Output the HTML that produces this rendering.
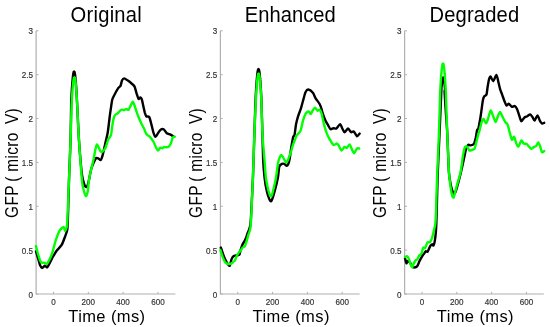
<!DOCTYPE html>
<html><head><meta charset="utf-8"><title>GFP</title>
<style>
html,body{margin:0;padding:0;background:#fff;}
svg{display:block;}
.tk{font-family:"Liberation Sans",sans-serif;font-size:8.1px;fill:#303030;stroke:#303030;stroke-width:0.15px;}
.lb{font-family:"Liberation Sans",sans-serif;font-size:16.5px;fill:#000;letter-spacing:0.4px;}
.tt{font-family:"Liberation Sans",sans-serif;font-size:21px;fill:#000;letter-spacing:-0.15px;}
</style></head><body>
<svg width="550" height="327" viewBox="0 0 550 327">
<rect width="550" height="327" fill="#fff"/>
<g>
<path d="M36.1 30.8V294.0H175.3" fill="none" stroke="#b0b0b0" stroke-width="1.2"/>
<path d="M36.1 294.0h2.4" stroke="#b0b0b0" stroke-width="1"/>
<text class="tk" transform="translate(32.9,297.5) scale(1,1.2)" text-anchor="end">0</text>
<path d="M36.1 250.1h2.4" stroke="#b0b0b0" stroke-width="1"/>
<text class="tk" transform="translate(32.9,253.6) scale(1,1.2)" text-anchor="end">0.5</text>
<path d="M36.1 206.3h2.4" stroke="#b0b0b0" stroke-width="1"/>
<text class="tk" transform="translate(32.9,209.8) scale(1,1.2)" text-anchor="end">1</text>
<path d="M36.1 162.4h2.4" stroke="#b0b0b0" stroke-width="1"/>
<text class="tk" transform="translate(32.9,165.9) scale(1,1.2)" text-anchor="end">1.5</text>
<path d="M36.1 118.5h2.4" stroke="#b0b0b0" stroke-width="1"/>
<text class="tk" transform="translate(32.9,122.0) scale(1,1.2)" text-anchor="end">2</text>
<path d="M36.1 74.7h2.4" stroke="#b0b0b0" stroke-width="1"/>
<text class="tk" transform="translate(32.9,78.2) scale(1,1.2)" text-anchor="end">2.5</text>
<path d="M36.1 30.8h2.4" stroke="#b0b0b0" stroke-width="1"/>
<text class="tk" transform="translate(32.9,34.3) scale(1,1.2)" text-anchor="end">3</text>
<path d="M53.5 294.0v-2.2" stroke="#b0b0b0" stroke-width="1"/>
<text class="tk" transform="translate(53.5,304.8) scale(1,1.2)" text-anchor="middle">0</text>
<path d="M88.3 294.0v-2.2" stroke="#b0b0b0" stroke-width="1"/>
<text class="tk" transform="translate(88.3,304.8) scale(1,1.2)" text-anchor="middle">200</text>
<path d="M123.1 294.0v-2.2" stroke="#b0b0b0" stroke-width="1"/>
<text class="tk" transform="translate(123.1,304.8) scale(1,1.2)" text-anchor="middle">400</text>
<path d="M157.9 294.0v-2.2" stroke="#b0b0b0" stroke-width="1"/>
<text class="tk" transform="translate(157.9,304.8) scale(1,1.2)" text-anchor="middle">600</text>
<path d="M36.0 251.5C36.2 252.3 37.5 256.4 38.0 258.0C38.5 259.6 39.5 263.8 40.0 265.0C40.5 266.2 41.6 267.9 42.2 268.0C42.8 268.1 44.2 265.7 44.8 265.6C45.4 265.5 46.8 267.6 47.3 267.4C47.8 267.2 48.8 264.8 49.5 263.5C50.2 262.2 52.2 258.0 53.1 256.5C54.0 255.0 56.0 251.6 57.0 250.3C58.0 249.0 60.6 246.7 61.5 245.2C62.4 243.7 64.1 239.2 64.7 237.5C65.3 235.8 66.6 232.8 67.0 231.0C67.4 229.2 67.6 227.9 67.8 222.0C68.0 216.1 68.7 189.3 69.0 180.0C69.3 170.7 70.2 151.2 70.5 142.0C70.8 132.8 71.1 106.7 71.2 101.5C71.3 96.3 71.4 98.3 71.4 97.4C71.5 96.4 71.6 94.4 71.6 93.5C71.7 92.7 71.8 90.8 71.8 90.0C71.9 89.2 72.0 87.5 72.0 86.8C72.1 86.1 72.2 84.5 72.2 83.9C72.3 83.3 72.4 81.9 72.5 81.3C72.5 80.7 72.6 79.5 72.7 79.0C72.7 78.5 72.8 77.4 72.9 77.0C72.9 76.6 73.0 75.7 73.1 75.3C73.1 75.0 73.2 74.2 73.3 73.9C73.3 73.7 73.4 73.1 73.5 72.9C73.5 72.7 73.6 72.3 73.7 72.1C73.7 72.0 73.8 71.7 73.9 71.7C73.9 71.6 74.1 71.5 74.1 71.5C74.1 71.5 74.3 71.6 74.3 71.7C74.4 71.7 74.5 72.0 74.5 72.1C74.6 72.3 74.7 72.7 74.7 72.9C74.8 73.1 74.9 73.7 74.9 73.9C75.0 74.2 75.1 75.0 75.1 75.3C75.2 75.7 75.3 76.6 75.3 77.0C75.4 77.4 75.5 78.5 75.5 79.0C75.6 79.5 75.7 80.7 75.7 81.3C75.8 81.9 75.9 83.3 76.0 83.9C76.0 84.5 76.1 86.1 76.2 86.8C76.2 87.5 76.3 89.2 76.4 90.0C76.4 90.8 76.5 92.7 76.6 93.5C76.6 94.4 76.7 96.4 76.8 97.4C76.8 98.3 76.7 96.3 77.0 101.5C77.3 106.7 78.5 133.4 79.1 142.0C79.7 150.6 81.4 170.0 82.0 175.0C82.6 180.0 84.0 183.6 84.5 185.0C85.0 186.4 86.1 187.3 86.6 187.0C87.1 186.7 88.0 184.0 88.5 182.0C89.0 180.0 90.5 171.7 91.1 169.5C91.7 167.3 92.9 164.3 93.5 163.0C94.1 161.7 95.6 158.5 96.2 158.0C96.8 157.5 98.0 158.3 98.5 158.5C99.0 158.7 100.2 160.4 100.7 160.0C101.2 159.6 102.1 157.3 102.6 155.4C103.1 153.5 104.6 146.6 105.2 143.9C105.8 141.2 107.3 135.2 107.8 132.0C108.3 128.8 109.3 120.0 109.7 116.7C110.1 113.4 111.2 106.1 111.5 104.0C111.8 101.9 112.0 100.2 112.5 98.9C113.0 97.6 114.7 94.3 115.4 93.0C116.1 91.7 117.8 88.8 118.4 87.9C119.0 87.0 120.2 86.6 120.6 85.7C121.0 84.8 121.6 81.5 122.0 80.6C122.4 79.7 123.5 78.4 124.2 78.4C124.9 78.4 127.0 80.0 127.9 80.6C128.8 81.2 130.8 82.8 131.6 83.5C132.4 84.2 133.9 85.2 134.5 86.4C135.1 87.6 136.2 92.3 136.7 93.8C137.2 95.3 138.1 98.5 138.5 98.9C138.9 99.3 140.0 97.3 140.4 97.4C140.8 97.5 141.6 98.6 141.9 99.6C142.2 100.6 143.0 104.5 143.3 106.0C143.6 107.5 144.5 111.4 144.8 112.6C145.2 113.8 145.8 115.8 146.3 116.3C146.8 116.8 148.6 116.1 149.2 117.0C149.8 117.9 150.9 122.5 151.4 124.4C151.9 126.3 153.1 131.7 153.6 133.2C154.1 134.7 155.0 136.9 155.5 136.9C156.0 136.9 157.4 134.1 158.0 133.2C158.6 132.3 160.2 129.9 160.9 129.5C161.6 129.1 163.2 129.1 163.9 129.5C164.6 129.9 166.0 132.6 166.8 133.2C167.6 133.8 169.7 134.2 170.5 134.6C171.3 135.0 173.1 136.3 173.4 136.5" fill="none" stroke="#000" stroke-width="2.4" stroke-linejoin="round" stroke-linecap="round"/>
<path d="M36.0 246.2C36.2 247.1 37.5 252.3 38.0 254.0C38.5 255.7 39.8 260.0 40.3 261.0C40.8 262.0 41.6 262.6 42.0 262.8C42.4 263.0 43.5 262.5 44.0 262.6C44.5 262.7 46.1 264.0 46.7 263.8C47.3 263.6 48.5 261.4 49.0 260.5C49.5 259.6 50.7 257.0 51.2 255.8C51.7 254.6 52.6 251.8 53.1 250.0C53.6 248.2 55.0 242.6 55.7 240.4C56.4 238.2 58.6 232.4 59.5 230.8C60.4 229.2 63.0 226.9 63.6 226.9C64.2 226.9 64.6 230.7 64.9 230.8C65.2 230.9 66.2 229.0 66.5 228.0C66.8 227.0 67.0 227.6 67.3 222.0C67.6 216.4 68.6 189.3 69.0 180.0C69.4 170.7 70.2 150.5 70.5 142.0C70.8 133.5 71.4 111.7 71.5 107.2C71.7 102.7 71.7 104.0 71.7 103.1C71.8 102.1 71.9 100.1 71.9 99.2C72.0 98.4 72.1 96.5 72.1 95.7C72.2 94.9 72.3 93.2 72.3 92.5C72.4 91.8 72.5 90.2 72.5 89.6C72.6 89.0 72.7 87.6 72.8 87.0C72.8 86.4 72.9 85.2 73.0 84.7C73.0 84.2 73.1 83.1 73.2 82.7C73.2 82.3 73.3 81.4 73.4 81.0C73.4 80.7 73.5 79.9 73.6 79.6C73.6 79.4 73.7 78.8 73.8 78.6C73.8 78.4 73.9 78.0 74.0 77.8C74.0 77.7 74.1 77.4 74.2 77.4C74.2 77.3 74.4 77.2 74.4 77.2C74.4 77.2 74.6 77.3 74.6 77.4C74.7 77.4 74.8 77.7 74.8 77.8C74.9 78.0 75.0 78.4 75.0 78.6C75.1 78.8 75.2 79.4 75.2 79.6C75.3 79.9 75.4 80.7 75.4 81.0C75.5 81.4 75.6 82.3 75.6 82.7C75.7 83.1 75.8 84.2 75.8 84.7C75.9 85.2 76.0 86.4 76.0 87.0C76.1 87.6 76.2 89.0 76.3 89.6C76.3 90.2 76.4 91.8 76.5 92.5C76.5 93.2 76.6 94.9 76.7 95.7C76.7 96.5 76.8 98.4 76.9 99.2C76.9 100.1 77.0 102.1 77.1 103.1C77.1 104.0 77.1 102.7 77.3 107.2C77.5 111.7 78.5 133.3 79.1 142.0C79.7 150.7 81.5 176.1 82.1 182.0C82.7 187.9 84.0 191.4 84.5 193.0C85.0 194.6 85.8 196.3 86.2 196.0C86.6 195.7 87.7 191.6 88.0 190.0C88.3 188.4 88.4 184.3 88.7 182.0C89.0 179.7 90.4 172.6 91.0 170.0C91.6 167.4 93.1 161.8 93.6 159.3C94.1 156.9 95.1 150.7 95.5 149.0C95.9 147.3 96.6 144.7 96.9 144.5C97.2 144.3 98.1 146.3 98.5 147.0C98.9 147.7 99.6 149.9 100.0 150.5C100.4 151.1 101.5 152.1 102.0 152.0C102.5 151.9 103.5 150.6 104.0 150.0C104.5 149.4 105.4 148.2 105.9 147.0C106.4 145.8 107.5 141.1 108.1 139.7C108.7 138.3 110.5 136.8 111.0 135.0C111.5 133.2 112.1 126.7 112.5 124.4C112.9 122.1 114.1 116.9 114.7 115.6C115.3 114.3 116.8 114.1 117.6 113.4C118.4 112.7 120.5 110.1 121.3 109.7C122.1 109.3 123.6 110.2 124.2 110.1C124.8 110.0 125.9 109.0 126.4 109.0C126.9 109.0 128.1 110.1 128.6 109.7C129.1 109.3 130.3 106.2 130.8 105.3C131.3 104.4 132.5 101.5 133.0 101.8C133.5 102.1 134.6 105.8 135.2 107.5C135.8 109.2 137.5 114.5 138.2 116.3C138.9 118.1 140.4 121.4 141.1 122.9C141.8 124.4 143.5 127.5 144.1 128.8C144.7 130.1 145.6 133.0 146.3 133.9C147.0 134.8 149.0 136.0 149.9 136.9C150.8 137.8 152.9 140.8 153.6 142.0C154.3 143.2 155.3 146.0 155.8 147.0C156.3 148.0 157.5 150.4 158.0 150.5C158.5 150.6 159.7 148.1 160.2 147.8C160.7 147.5 161.9 148.3 162.4 148.2C162.9 148.1 164.1 147.1 164.6 147.0C165.1 146.9 166.3 147.4 166.8 147.3C167.3 147.2 168.5 146.8 169.0 146.3C169.5 145.8 170.8 143.6 171.2 142.6C171.6 141.6 172.3 138.2 172.7 137.5C173.1 136.8 174.6 136.8 174.9 136.7" fill="none" stroke="#00ff00" stroke-width="2.4" stroke-linejoin="round" stroke-linecap="round"/>
<text class="tt" transform="translate(106.3,22.4) scale(0.96,1.05)" text-anchor="middle" style="letter-spacing:0.26px">Original</text>
<text class="lb" x="106.9" y="322" text-anchor="middle">Time (ms)</text>
<text class="lb" transform="translate(17.7,162.9) rotate(-90) scale(0.93,1.06)" text-anchor="middle" style="word-spacing:4px">GFP <tspan dx="-5">(</tspan><tspan dx="5">micro V)</tspan></text>
</g>
<g>
<path d="M220.4 30.8V294.0H359.6" fill="none" stroke="#b0b0b0" stroke-width="1.2"/>
<path d="M220.4 294.0h2.4" stroke="#b0b0b0" stroke-width="1"/>
<text class="tk" transform="translate(217.2,297.5) scale(1,1.2)" text-anchor="end">0</text>
<path d="M220.4 250.1h2.4" stroke="#b0b0b0" stroke-width="1"/>
<text class="tk" transform="translate(217.2,253.6) scale(1,1.2)" text-anchor="end">0.5</text>
<path d="M220.4 206.3h2.4" stroke="#b0b0b0" stroke-width="1"/>
<text class="tk" transform="translate(217.2,209.8) scale(1,1.2)" text-anchor="end">1</text>
<path d="M220.4 162.4h2.4" stroke="#b0b0b0" stroke-width="1"/>
<text class="tk" transform="translate(217.2,165.9) scale(1,1.2)" text-anchor="end">1.5</text>
<path d="M220.4 118.5h2.4" stroke="#b0b0b0" stroke-width="1"/>
<text class="tk" transform="translate(217.2,122.0) scale(1,1.2)" text-anchor="end">2</text>
<path d="M220.4 74.7h2.4" stroke="#b0b0b0" stroke-width="1"/>
<text class="tk" transform="translate(217.2,78.2) scale(1,1.2)" text-anchor="end">2.5</text>
<path d="M220.4 30.8h2.4" stroke="#b0b0b0" stroke-width="1"/>
<text class="tk" transform="translate(217.2,34.3) scale(1,1.2)" text-anchor="end">3</text>
<path d="M237.8 294.0v-2.2" stroke="#b0b0b0" stroke-width="1"/>
<text class="tk" transform="translate(237.8,304.8) scale(1,1.2)" text-anchor="middle">0</text>
<path d="M272.6 294.0v-2.2" stroke="#b0b0b0" stroke-width="1"/>
<text class="tk" transform="translate(272.6,304.8) scale(1,1.2)" text-anchor="middle">200</text>
<path d="M307.4 294.0v-2.2" stroke="#b0b0b0" stroke-width="1"/>
<text class="tk" transform="translate(307.4,304.8) scale(1,1.2)" text-anchor="middle">400</text>
<path d="M342.2 294.0v-2.2" stroke="#b0b0b0" stroke-width="1"/>
<text class="tk" transform="translate(342.2,304.8) scale(1,1.2)" text-anchor="middle">600</text>
<path d="M220.8 247.5C221.1 248.3 222.5 252.5 223.0 254.0C223.5 255.5 224.9 258.8 225.5 260.0C226.1 261.2 227.3 263.3 227.8 264.0C228.3 264.7 229.4 266.2 229.8 265.7C230.2 265.2 231.1 260.4 231.5 259.3C231.9 258.2 232.9 256.7 233.3 256.3C233.7 255.9 234.5 255.7 234.9 255.6C235.3 255.5 236.5 255.6 237.0 255.5C237.5 255.4 239.1 255.1 239.5 254.5C239.9 253.9 240.2 251.2 240.6 250.0C241.0 248.8 242.1 245.4 242.6 244.3C243.1 243.2 244.1 241.7 244.5 241.0C244.9 240.3 245.6 238.9 246.0 238.0C246.4 237.1 247.2 233.9 247.6 233.0C247.9 232.1 248.7 230.9 249.0 230.0C249.3 229.1 250.1 226.5 250.3 225.0C250.5 223.5 250.7 222.7 251.0 217.0C251.3 211.3 252.6 185.4 253.0 176.0C253.4 166.6 254.0 145.0 254.3 136.0C254.6 127.0 255.4 103.8 255.6 99.0C255.8 94.2 255.8 95.8 255.8 94.9C255.9 93.9 256.0 91.9 256.0 91.0C256.1 90.2 256.2 88.3 256.2 87.5C256.3 86.7 256.4 85.0 256.4 84.3C256.5 83.6 256.6 82.0 256.6 81.4C256.7 80.8 256.8 79.4 256.9 78.8C256.9 78.2 257.0 77.0 257.1 76.5C257.1 76.0 257.2 74.9 257.3 74.5C257.3 74.1 257.4 73.2 257.5 72.8C257.5 72.5 257.6 71.7 257.7 71.4C257.7 71.2 257.8 70.6 257.9 70.4C257.9 70.2 258.0 69.8 258.1 69.6C258.1 69.5 258.2 69.2 258.3 69.2C258.3 69.1 258.5 69.0 258.5 69.0C258.5 69.0 258.7 69.1 258.7 69.2C258.8 69.2 258.9 69.5 258.9 69.6C259.0 69.8 259.1 70.2 259.1 70.4C259.2 70.6 259.3 71.2 259.3 71.4C259.4 71.7 259.5 72.5 259.5 72.8C259.6 73.2 259.7 74.1 259.7 74.5C259.8 74.9 259.9 76.0 259.9 76.5C260.0 77.0 260.1 78.2 260.1 78.8C260.2 79.4 260.3 80.8 260.4 81.4C260.4 82.0 260.5 83.6 260.6 84.3C260.6 85.0 260.7 86.7 260.8 87.5C260.8 88.3 260.9 90.2 261.0 91.0C261.0 91.9 261.1 93.9 261.2 94.9C261.2 95.8 261.2 94.2 261.4 99.0C261.5 103.8 262.3 128.8 262.5 136.0C262.7 143.2 263.0 155.9 263.2 160.7C263.4 165.5 264.1 173.3 264.5 177.0C264.9 180.7 266.4 189.4 267.0 192.0C267.6 194.6 269.0 198.4 269.5 199.5C270.0 200.6 270.6 201.4 270.9 201.3C271.2 201.2 271.8 200.3 272.3 199.0C272.8 197.7 274.3 192.6 275.0 190.0C275.7 187.4 277.5 179.7 278.0 177.0C278.5 174.3 278.8 168.0 279.3 166.5C279.8 165.0 281.3 164.2 281.9 163.9C282.5 163.6 283.9 163.7 284.4 163.9C284.9 164.1 285.9 165.8 286.4 165.8C286.9 165.8 287.9 164.8 288.3 163.9C288.7 163.0 289.5 159.7 289.8 158.0C290.1 156.3 290.6 151.5 291.0 149.1C291.4 146.7 292.7 139.0 293.1 137.3C293.5 135.6 294.3 136.3 294.6 134.8C294.9 133.3 295.6 126.6 296.0 124.5C296.4 122.4 297.3 118.7 297.9 116.8C298.5 114.9 300.5 109.8 301.1 107.8C301.7 105.8 302.9 101.2 303.4 99.4C303.9 97.6 305.0 93.2 305.6 92.0C306.2 90.8 307.3 89.4 308.2 89.5C309.1 89.6 312.0 91.7 312.9 92.8C313.8 93.9 315.0 97.3 315.8 98.6C316.6 99.9 318.8 102.5 319.5 103.8C320.2 105.1 321.4 108.6 321.7 109.6C322.0 110.6 322.0 111.0 322.4 112.3C322.8 113.6 324.7 118.8 325.4 120.4C326.1 122.0 327.7 124.6 328.3 125.6C328.9 126.6 329.9 128.9 330.5 129.2C331.1 129.5 332.8 128.3 333.5 128.2C334.2 128.1 335.6 129.0 336.4 128.5C337.2 128.0 339.4 124.1 340.1 124.1C340.8 124.1 341.8 127.6 342.3 128.5C342.8 129.4 343.8 132.2 344.5 132.2C345.2 132.2 347.3 128.5 348.1 128.5C348.9 128.5 350.4 131.9 351.1 132.2C351.8 132.5 353.0 130.9 353.7 131.4C354.4 131.9 356.3 136.0 357.0 136.3C357.7 136.6 359.3 133.9 359.6 133.6" fill="none" stroke="#000" stroke-width="2.4" stroke-linejoin="round" stroke-linecap="round"/>
<path d="M220.4 250.0C220.7 250.8 222.1 255.6 222.7 257.1C223.3 258.6 224.7 261.7 225.3 262.5C225.9 263.3 227.2 263.8 227.8 264.0C228.4 264.2 229.8 264.0 230.4 263.8C231.0 263.6 232.5 262.6 233.0 262.2C233.5 261.8 234.5 261.2 234.9 260.5C235.3 259.8 236.3 256.7 236.8 255.8C237.3 254.9 238.3 253.2 238.8 252.6C239.3 252.0 240.3 251.3 240.7 250.7C241.1 250.1 242.1 248.0 242.6 247.5C243.1 247.0 244.3 246.9 244.8 246.2C245.3 245.5 246.1 243.1 246.5 241.7C246.9 240.3 248.0 236.1 248.4 234.6C248.8 233.1 250.0 231.0 250.3 228.9C250.6 226.8 250.9 223.2 251.2 217.0C251.5 210.8 252.6 185.4 253.0 176.0C253.4 166.6 254.0 144.5 254.3 136.0C254.6 127.5 255.5 107.8 255.7 103.5C255.9 99.2 255.9 100.3 255.9 99.4C256.0 98.4 256.1 96.4 256.1 95.5C256.2 94.7 256.3 92.8 256.3 92.0C256.4 91.2 256.5 89.5 256.5 88.8C256.6 88.1 256.7 86.5 256.7 85.9C256.8 85.3 256.9 83.9 257.0 83.3C257.0 82.7 257.1 81.5 257.2 81.0C257.2 80.5 257.3 79.4 257.4 79.0C257.4 78.6 257.5 77.7 257.6 77.3C257.6 77.0 257.7 76.2 257.8 75.9C257.8 75.7 257.9 75.1 258.0 74.9C258.0 74.7 258.1 74.3 258.2 74.1C258.2 74.0 258.3 73.7 258.4 73.7C258.4 73.6 258.6 73.5 258.6 73.5C258.6 73.5 258.8 73.6 258.8 73.7C258.9 73.7 259.0 74.0 259.0 74.1C259.1 74.3 259.2 74.7 259.2 74.9C259.3 75.1 259.4 75.7 259.4 75.9C259.5 76.2 259.6 77.0 259.6 77.3C259.7 77.7 259.8 78.6 259.8 79.0C259.9 79.4 260.0 80.5 260.0 81.0C260.1 81.5 260.2 82.7 260.2 83.3C260.3 83.9 260.4 85.3 260.5 85.9C260.5 86.5 260.6 88.1 260.7 88.8C260.7 89.5 260.8 91.2 260.9 92.0C260.9 92.8 261.0 94.7 261.1 95.5C261.1 96.4 261.2 98.4 261.3 99.4C261.3 100.3 261.3 99.2 261.5 103.5C261.6 107.8 262.2 129.4 262.6 136.0C263.0 142.6 264.1 155.2 264.5 160.0C264.9 164.8 265.4 173.6 265.8 177.0C266.2 180.4 267.5 186.9 268.0 189.0C268.5 191.1 269.5 194.2 269.8 195.0C270.1 195.8 270.6 196.2 270.9 196.2C271.2 196.2 271.6 196.1 272.0 195.0C272.4 193.9 273.5 189.1 274.0 187.0C274.5 184.9 275.6 179.8 276.1 177.0C276.6 174.2 277.6 165.4 278.0 163.2C278.4 161.0 279.1 159.0 279.5 158.0C279.9 157.0 280.8 155.0 281.2 154.9C281.6 154.8 282.6 156.3 283.0 157.0C283.4 157.7 284.4 159.8 284.8 160.5C285.2 161.2 286.0 162.7 286.4 162.6C286.8 162.5 287.6 160.8 288.0 160.0C288.4 159.2 289.3 156.4 289.6 155.5C289.9 154.6 290.5 153.2 290.9 152.0C291.3 150.8 292.3 146.8 292.8 145.3C293.3 143.8 294.9 140.1 295.3 138.9C295.7 137.7 296.0 136.3 296.6 135.4C297.2 134.5 299.8 132.6 300.5 130.9C301.2 129.2 302.4 122.7 303.0 120.7C303.6 118.7 305.0 114.9 305.6 113.8C306.2 112.7 307.4 111.8 307.8 111.6C308.2 111.4 308.9 111.6 309.2 111.9C309.5 112.2 310.3 114.3 310.7 114.1C311.1 113.9 312.4 110.9 312.9 110.1C313.4 109.3 314.6 107.5 315.1 107.6C315.6 107.7 316.9 110.5 317.4 110.7C317.9 110.9 319.2 109.3 319.7 109.7C320.2 110.1 321.2 112.1 321.7 113.8C322.2 115.5 323.3 121.8 323.9 124.1C324.5 126.4 326.2 131.8 326.9 133.6C327.6 135.4 329.0 138.2 329.8 139.5C330.6 140.8 332.7 144.5 333.5 145.0C334.3 145.5 336.0 143.5 336.6 143.5C337.2 143.5 337.8 144.2 338.4 145.0C339.0 145.8 340.8 150.3 341.5 150.5C342.2 150.7 343.9 147.2 344.5 146.9C345.1 146.6 346.1 148.3 346.7 148.0C347.3 147.7 348.9 144.3 349.5 144.4C350.1 144.5 351.3 148.1 351.8 149.1C352.3 150.1 353.6 153.3 354.2 153.2C354.8 153.1 356.4 148.8 357.0 148.3C357.6 147.8 358.9 148.5 359.2 148.5" fill="none" stroke="#00ff00" stroke-width="2.4" stroke-linejoin="round" stroke-linecap="round"/>
<text class="tt" transform="translate(290.2,22.4) scale(0.96,1.05)" text-anchor="middle" style="letter-spacing:0.05px">Enhanced</text>
<text class="lb" x="291.2" y="322" text-anchor="middle">Time (ms)</text>
<text class="lb" transform="translate(202.0,162.9) rotate(-90) scale(0.93,1.06)" text-anchor="middle" style="word-spacing:4px">GFP <tspan dx="-5">(</tspan><tspan dx="5">micro V)</tspan></text>
</g>
<g>
<path d="M404.6 30.8V294.0H543.8" fill="none" stroke="#b0b0b0" stroke-width="1.2"/>
<path d="M404.6 294.0h2.4" stroke="#b0b0b0" stroke-width="1"/>
<text class="tk" transform="translate(401.4,297.5) scale(1,1.2)" text-anchor="end">0</text>
<path d="M404.6 250.1h2.4" stroke="#b0b0b0" stroke-width="1"/>
<text class="tk" transform="translate(401.4,253.6) scale(1,1.2)" text-anchor="end">0.5</text>
<path d="M404.6 206.3h2.4" stroke="#b0b0b0" stroke-width="1"/>
<text class="tk" transform="translate(401.4,209.8) scale(1,1.2)" text-anchor="end">1</text>
<path d="M404.6 162.4h2.4" stroke="#b0b0b0" stroke-width="1"/>
<text class="tk" transform="translate(401.4,165.9) scale(1,1.2)" text-anchor="end">1.5</text>
<path d="M404.6 118.5h2.4" stroke="#b0b0b0" stroke-width="1"/>
<text class="tk" transform="translate(401.4,122.0) scale(1,1.2)" text-anchor="end">2</text>
<path d="M404.6 74.7h2.4" stroke="#b0b0b0" stroke-width="1"/>
<text class="tk" transform="translate(401.4,78.2) scale(1,1.2)" text-anchor="end">2.5</text>
<path d="M404.6 30.8h2.4" stroke="#b0b0b0" stroke-width="1"/>
<text class="tk" transform="translate(401.4,34.3) scale(1,1.2)" text-anchor="end">3</text>
<path d="M422.0 294.0v-2.2" stroke="#b0b0b0" stroke-width="1"/>
<text class="tk" transform="translate(422.0,304.8) scale(1,1.2)" text-anchor="middle">0</text>
<path d="M456.8 294.0v-2.2" stroke="#b0b0b0" stroke-width="1"/>
<text class="tk" transform="translate(456.8,304.8) scale(1,1.2)" text-anchor="middle">200</text>
<path d="M491.6 294.0v-2.2" stroke="#b0b0b0" stroke-width="1"/>
<text class="tk" transform="translate(491.6,304.8) scale(1,1.2)" text-anchor="middle">400</text>
<path d="M526.4 294.0v-2.2" stroke="#b0b0b0" stroke-width="1"/>
<text class="tk" transform="translate(526.4,304.8) scale(1,1.2)" text-anchor="middle">600</text>
<path d="M405.0 258.3C405.2 258.9 406.0 263.0 406.4 263.3C406.8 263.6 407.6 260.9 408.0 260.8C408.4 260.7 409.5 261.8 410.0 262.5C410.5 263.2 411.9 266.4 412.5 267.0C413.1 267.6 414.8 267.4 415.4 267.3C416.0 267.2 416.8 266.7 417.3 266.0C417.8 265.3 418.8 262.7 419.3 261.6C419.8 260.5 421.2 257.8 421.8 256.8C422.4 255.8 423.9 253.8 424.4 253.2C424.9 252.6 425.3 251.5 425.7 251.3C426.1 251.1 427.1 252.3 427.6 251.7C428.1 251.1 429.7 247.1 430.2 246.2C430.7 245.3 431.7 244.4 432.1 244.3C432.5 244.2 433.3 246.0 433.6 245.5C433.9 245.0 434.6 242.2 434.9 240.4C435.2 238.6 435.8 233.1 436.0 230.1C436.2 227.1 436.4 221.8 436.6 215.0C436.8 208.2 437.4 181.7 437.8 172.0C438.2 162.3 439.2 141.3 439.6 132.0C440.0 122.7 441.1 97.0 441.3 92.0C441.5 87.0 441.4 90.0 441.4 89.5C441.4 89.0 441.5 88.2 441.5 87.8C441.5 87.5 441.6 86.7 441.6 86.3C441.7 86.0 441.7 85.2 441.8 84.9C441.8 84.6 441.9 83.9 441.9 83.6C441.9 83.3 442.0 82.7 442.0 82.5C442.1 82.2 442.1 81.6 442.2 81.4C442.2 81.2 442.3 80.7 442.3 80.5C442.3 80.3 442.4 79.9 442.4 79.7C442.4 79.5 442.5 79.2 442.5 79.0C442.6 78.9 442.6 78.6 442.7 78.5C442.7 78.4 442.8 78.1 442.8 78.1C442.8 78.0 442.9 77.8 442.9 77.7C443.0 77.7 443.0 77.6 443.1 77.6C443.1 77.5 443.2 77.5 443.2 77.5C443.2 77.5 443.3 77.5 443.3 77.6C443.4 77.6 443.4 77.7 443.5 77.7C443.5 77.8 443.6 78.0 443.6 78.1C443.6 78.1 443.7 78.4 443.7 78.5C443.8 78.6 443.8 78.9 443.9 79.0C443.9 79.2 444.0 79.5 444.0 79.7C444.0 79.9 444.1 80.3 444.1 80.5C444.1 80.7 444.2 81.2 444.2 81.4C444.3 81.6 444.3 82.2 444.4 82.5C444.4 82.7 444.5 83.3 444.5 83.6C444.5 83.9 444.6 84.6 444.6 84.9C444.7 85.2 444.7 86.0 444.8 86.3C444.8 86.7 444.9 87.5 444.9 87.8C444.9 88.2 445.1 89.0 445.0 89.5C445.0 90.0 444.5 89.6 444.6 92.0C444.7 94.4 445.4 105.3 445.7 110.0C446.0 114.7 446.8 124.8 447.2 132.0C447.6 139.2 448.5 165.7 448.9 172.0C449.3 178.3 450.5 183.6 451.0 186.0C451.5 188.4 452.6 191.6 453.0 192.5C453.4 193.4 453.9 194.1 454.2 194.0C454.5 193.9 455.0 193.3 455.5 192.0C456.0 190.7 457.6 185.3 458.2 183.0C458.8 180.7 460.3 175.0 461.0 172.0C461.7 169.0 463.7 159.6 464.3 157.0C464.9 154.4 465.5 150.7 465.9 149.3C466.3 147.9 467.5 145.3 468.1 144.8C468.7 144.3 470.0 145.5 470.7 145.4C471.4 145.3 473.3 144.8 473.9 143.9C474.5 143.0 475.4 139.3 475.8 137.7C476.2 136.1 476.8 131.1 477.1 130.0C477.4 128.9 478.0 129.9 478.4 128.5C478.8 127.1 479.9 120.4 480.3 118.2C480.7 116.0 481.3 111.4 481.6 109.3C481.9 107.2 482.6 101.8 482.9 100.3C483.2 98.8 483.8 97.1 484.2 96.4C484.6 95.7 486.1 95.6 486.5 94.5C486.9 93.4 487.3 88.8 487.6 87.0C487.9 85.2 488.8 80.2 489.1 79.0C489.5 77.8 490.1 76.2 490.6 76.5C491.1 76.8 492.5 81.4 493.2 81.2C493.9 81.0 495.8 75.0 496.4 75.0C497.0 75.0 497.8 79.5 498.2 81.2C498.6 82.9 499.6 87.6 500.1 89.2C500.6 90.8 501.8 93.7 502.3 95.1C502.8 96.5 504.0 100.0 504.5 101.2C505.0 102.4 505.9 105.2 506.4 105.5C506.9 105.8 508.3 103.6 508.9 103.8C509.5 104.0 511.2 106.5 511.9 106.8C512.6 107.1 514.2 105.7 514.8 106.0C515.4 106.3 516.5 107.9 517.0 109.0C517.5 110.1 518.7 114.0 519.2 115.4C519.7 116.8 520.8 121.0 521.4 121.3C522.0 121.6 523.6 118.2 524.3 117.6C525.0 117.0 526.6 116.6 527.3 116.2C528.0 115.8 529.6 114.3 530.2 114.4C530.8 114.5 531.9 116.2 532.4 116.9C532.9 117.6 534.0 120.8 534.6 120.6C535.2 120.4 536.9 115.4 537.5 115.4C538.1 115.4 539.3 119.7 539.8 120.6C540.3 121.5 541.5 123.2 542.0 123.5C542.5 123.8 543.9 122.9 544.2 122.8" fill="none" stroke="#000" stroke-width="2.4" stroke-linejoin="round" stroke-linecap="round"/>
<path d="M405.0 257.0C405.2 256.9 406.6 256.0 407.1 256.3C407.6 256.6 408.6 258.3 409.0 259.3C409.4 260.3 410.5 264.0 410.9 265.0C411.3 266.0 411.9 267.6 412.2 267.5C412.5 267.4 413.1 264.9 413.5 264.1C413.9 263.3 415.0 261.1 415.4 260.5C415.8 259.9 416.8 259.9 417.3 259.3C417.8 258.7 418.8 256.2 419.3 255.5C419.8 254.8 421.0 254.4 421.5 253.5C422.0 252.6 422.8 248.3 423.2 247.7C423.6 247.1 424.5 248.7 425.0 248.1C425.5 247.5 427.0 243.0 427.6 242.3C428.2 241.6 429.3 242.8 429.8 242.3C430.3 241.8 431.6 239.2 432.1 237.8C432.6 236.4 433.6 231.7 434.0 230.1C434.4 228.5 435.1 226.1 435.3 224.0C435.5 221.9 435.8 218.1 436.0 212.0C436.2 205.9 436.9 181.3 437.3 172.0C437.7 162.7 438.7 141.2 439.0 132.0C439.3 122.8 440.0 98.5 440.1 93.5C440.3 88.5 440.3 90.3 440.3 89.4C440.4 88.4 440.5 86.4 440.5 85.5C440.6 84.7 440.7 82.8 440.7 82.0C440.8 81.2 440.9 79.5 440.9 78.8C441.0 78.1 441.1 76.5 441.1 75.9C441.2 75.3 441.3 73.9 441.4 73.3C441.4 72.7 441.5 71.5 441.6 71.0C441.6 70.5 441.7 69.4 441.8 69.0C441.8 68.6 441.9 67.7 442.0 67.3C442.0 67.0 442.1 66.2 442.2 65.9C442.2 65.7 442.3 65.1 442.4 64.9C442.4 64.7 442.5 64.3 442.6 64.1C442.6 64.0 442.7 63.7 442.8 63.7C442.8 63.6 443.0 63.5 443.0 63.5C443.0 63.5 443.2 63.6 443.2 63.7C443.3 63.7 443.4 64.0 443.4 64.1C443.5 64.3 443.6 64.7 443.6 64.9C443.7 65.1 443.8 65.7 443.8 65.9C443.9 66.2 444.0 67.0 444.0 67.3C444.1 67.7 444.2 68.6 444.2 69.0C444.3 69.4 444.4 70.5 444.4 71.0C444.5 71.5 444.6 72.7 444.6 73.3C444.7 73.9 444.8 75.3 444.9 75.9C444.9 76.5 445.0 78.1 445.1 78.8C445.1 79.5 445.2 81.2 445.3 82.0C445.3 82.8 445.4 84.7 445.5 85.5C445.5 86.4 445.6 88.4 445.7 89.4C445.7 90.3 445.7 88.5 445.9 93.5C446.1 98.5 446.8 122.8 447.2 132.0C447.6 141.2 448.5 165.2 448.9 172.0C449.3 178.8 450.6 187.1 451.0 190.0C451.4 192.9 452.3 195.6 452.5 196.5C452.7 197.4 452.9 197.6 453.1 197.6C453.3 197.6 453.5 198.0 454.0 196.5C454.5 195.0 456.2 187.9 457.0 185.0C457.8 182.1 459.9 175.4 460.6 172.0C461.3 168.6 462.5 158.6 463.0 155.7C463.5 152.8 464.4 148.4 464.9 147.3C465.4 146.2 466.4 146.0 466.9 146.4C467.4 146.8 468.8 150.1 469.4 150.5C470.0 150.9 471.4 150.1 472.0 149.9C472.6 149.7 474.1 149.6 474.6 148.6C475.1 147.6 476.1 143.3 476.5 141.6C476.9 139.9 478.0 135.3 478.4 133.9C478.8 132.5 479.3 131.2 479.7 129.8C480.1 128.4 481.2 123.4 481.6 122.1C482.0 120.8 483.0 118.7 483.5 118.9C484.0 119.1 485.6 123.4 486.1 123.4C486.6 123.4 487.5 120.4 488.0 118.9C488.5 117.4 490.0 110.8 490.6 110.5C491.2 110.2 492.6 114.9 493.2 116.2C493.8 117.5 495.2 122.0 495.7 122.0C496.2 122.0 497.4 117.4 497.9 116.2C498.4 115.0 499.6 111.9 500.1 112.0C500.6 112.1 502.0 115.7 502.6 116.9C503.2 118.1 504.6 121.1 505.2 122.0C505.8 122.9 506.9 123.2 507.4 124.2C507.9 125.2 508.7 128.7 509.2 130.5C509.7 132.3 511.3 139.0 511.9 139.7C512.5 140.4 513.6 136.3 514.1 136.7C514.6 137.1 515.8 142.2 516.3 143.4C516.8 144.6 517.8 146.9 518.4 146.6C519.0 146.2 520.8 140.8 521.4 140.4C522.0 140.1 523.0 143.2 523.6 143.6C524.2 144.0 525.9 143.5 526.5 143.8C527.1 144.1 528.2 145.7 528.7 146.3C529.2 146.9 530.6 148.7 531.2 148.8C531.8 148.9 533.3 147.3 533.9 147.0C534.5 146.7 535.6 146.5 536.1 146.0C536.6 145.5 537.8 142.3 538.3 142.4C538.8 142.5 539.8 145.4 540.2 146.5C540.6 147.6 541.5 151.7 542.0 152.2C542.5 152.7 543.9 151.2 544.2 151.1" fill="none" stroke="#00ff00" stroke-width="2.4" stroke-linejoin="round" stroke-linecap="round"/>
<text class="tt" transform="translate(474.4,22.4) scale(0.96,1.05)" text-anchor="middle" style="letter-spacing:0.2px">Degraded</text>
<text class="lb" x="475.4" y="322" text-anchor="middle">Time (ms)</text>
<text class="lb" transform="translate(386.2,162.9) rotate(-90) scale(0.93,1.06)" text-anchor="middle" style="word-spacing:4px">GFP <tspan dx="-5">(</tspan><tspan dx="5">micro V)</tspan></text>
</g>
</svg></body></html>
